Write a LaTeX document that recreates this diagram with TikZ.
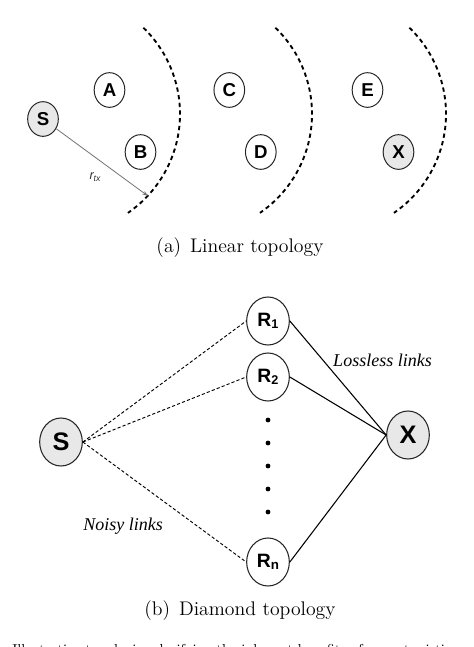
\documentclass[tikz,border=0pt]{standalone}
\usepackage{fontspec}
\setsansfont{Liberation Sans}
\newfontfamily\timesit{Liberation Serif Italic}
\usetikzlibrary{shapes.geometric,arrows.meta,calc}
\begin{document}
\begin{tikzpicture}[x=0.75pt,y=-0.75pt,
  topnode/.style={ellipse,draw=black!85,line width=0.75pt,minimum width=23pt,minimum height=26pt,inner sep=0pt,
    font=\sffamily\bfseries\fontsize{14}{14}\selectfont},
  botnode/.style={ellipse,draw=black!85,line width=0.8pt,minimum width=32pt,minimum height=36pt,inner sep=0pt,
    font=\sffamily\bfseries\fontsize{14.5}{14}\selectfont},
  bigtext/.style={font=\sffamily\bfseries\fontsize{19}{19}\selectfont},
  grayfill/.style={fill=black!9},
  rangearc/.style={line width=1.4pt,dash pattern=on 3.2pt off 2.6pt},
  noisy/.style={line width=0.7pt,dash pattern=on 2.4pt off 1.6pt},
  lossless/.style={line width=0.8pt},
  caption/.style={anchor=base,font=\fontsize{14.8}{14}\selectfont},
  linklabel/.style={anchor=base,font=\timesit\fontsize{13.5}{13}\selectfont},
  dot/.style={circle,fill=black,inner sep=0pt,minimum size=3.6pt}
]
\useasboundingbox (0,0) rectangle (474,647);

% ---------- (a) linear topology ----------
\node[topnode,grayfill] (S) at (43,119) {S};
\node[topnode] (A) at (109.5,90) {A};
\node[topnode] (B) at (140.5,152) {B};
\node[topnode] (C) at (229.3,90) {C};
\node[topnode] (D) at (260.8,152) {D};
\node[topnode] (E) at (367.5,90) {E};
\node[topnode,grayfill] (X) at (398.5,152) {X};

\coordinate (c1) at (60,114);
\coordinate (c2) at (192,114);
\coordinate (c3) at (326,114);
\foreach \c in {c1,c2,c3}
  \draw[rangearc] (\c) ++(-46:120) arc[start angle=-46,end angle=55.5,radius=120];

\coordinate (rtxend) at ($(c1)+(43:120)$);
\draw[black!55,line width=0.6pt,-{Stealth[length=4pt,width=3pt]}] (S) -- (rtxend);
\node[font=\sffamily\itshape\fontsize{9.5}{9}\selectfont,text=black!80] (rtx) at (95,177) {r\raisebox{-2pt}{\fontsize{6.5}{6}\selectfont tx}};

\node[caption] (capa) at (240,252.3) {(a)\hspace{0.45em}Linear topology};

% ---------- (b) diamond topology ----------
\node[botnode,grayfill,bigtext] (S2) at (61,442) {S};
\node[botnode,grayfill,bigtext] (X2) at (408,435) {X};
\node[botnode] (R1) at (268,321) {R\raisebox{-2pt}{\fontsize{9.5}{9}\selectfont 1}};
\node[botnode] (R2) at (268,377) {R\raisebox{-2pt}{\fontsize{9.5}{9}\selectfont 2}};
\node[botnode] (Rn) at (268,562) {R\raisebox{-2pt}{\fontsize{10}{9}\selectfont n}};

\foreach \i/\y in {1/420,2/443,3/466,4/489,5/512}
  \node[dot] (d\i) at (268,\y) {};

\draw[noisy] (S2.east) -- (R1.west);
\draw[noisy] (S2.east) -- (R2.west);
\draw[noisy] (S2.east) -- (Rn.west);
\draw[lossless] (R1.east) -- (X2.west);
\draw[lossless] (R2.east) -- (X2.west);
\draw[lossless] (Rn.east) -- (X2.west);

\node[linklabel] (lossl) at (382.5,366) {Lossless links};
\node[linklabel] (noisyl) at (123,530) {Noisy links};

\node[caption] (capb) at (240,615.5) {(b)\hspace{0.45em}Diamond topology};

% cut-off figure caption line (cut at the lower edge, as in the reference)
\node[anchor=base west,font=\fontsize{10.8}{10}\selectfont,inner sep=0pt] (figcap) at (12,654.5)
  {Illustrative topologies clarifying the inherent benefits of opportunistic routing.};
\end{tikzpicture}
\end{document}
